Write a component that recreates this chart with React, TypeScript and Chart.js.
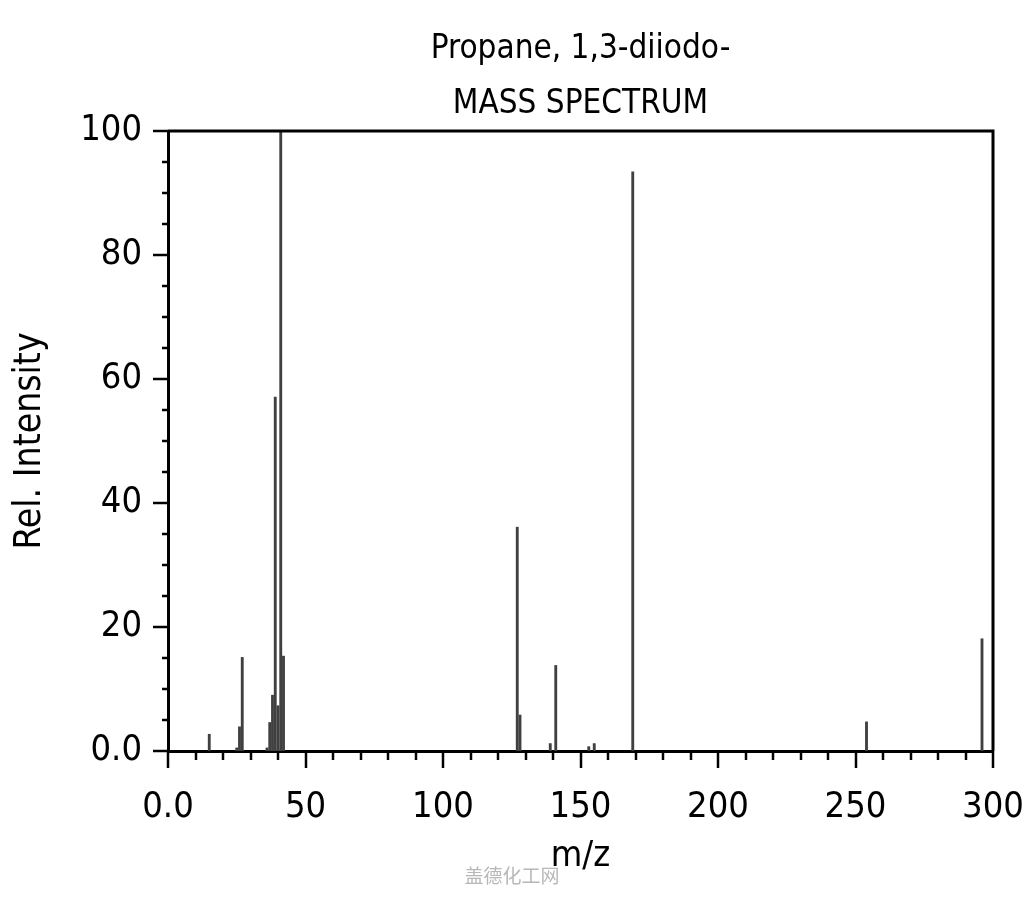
import React, { useEffect, useRef } from 'react';
import { Chart, registerables } from 'chart.js';

Chart.register(...registerables);

const mzValues = [15, 25, 26, 27, 36, 37, 38, 39, 40, 41, 42, 127, 128, 139, 141, 153, 155, 169, 254, 296];
const intensities = [2.7, 0.5, 3.9, 15.1, 0.5, 4.6, 9.0, 57.1, 7.3, 100, 15.3, 36.1, 5.8, 1.2, 13.8, 0.7, 1.2, 93.4, 4.7, 18.1];
const titleLines = ['Propane, 1,3-diiodo-', 'MASS SPECTRUM'];
const xAxisTitle = 'm/z';
const yAxisTitle = 'Rel. Intensity';
const watermark = '盖德化工网';

const FONT = "'DejaVu Sans Condensed', 'DejaVu Sans', sans-serif";

const framePlugin = {
  id: 'framePlugin',
  afterDraw(chart: any) {
    const { ctx, chartArea, scales } = chart;
    const x = scales.x;
    const y = scales.y;
    ctx.save();
    ctx.strokeStyle = '#000';
    ctx.lineWidth = 3;
    ctx.beginPath();
    ctx.moveTo(chartArea.left, chartArea.top);
    ctx.lineTo(chartArea.right, chartArea.top);
    ctx.lineTo(chartArea.right, chartArea.bottom);
    ctx.stroke();
    ctx.lineWidth = 2.5;
    for (let v = 0; v <= 300; v += 10) {
      const px = Math.round(x.getPixelForValue(v));
      const len = v % 50 === 0 ? 17 : 9;
      ctx.beginPath();
      ctx.moveTo(px, chartArea.bottom);
      ctx.lineTo(px, chartArea.bottom + len);
      ctx.stroke();
    }
    for (let v = 0; v <= 100; v += 5) {
      const py = Math.round(y.getPixelForValue(v));
      const len = v % 20 === 0 ? 15 : 6;
      ctx.beginPath();
      ctx.moveTo(chartArea.left, py);
      ctx.lineTo(chartArea.left - len, py);
      ctx.stroke();
    }
    ctx.fillStyle = '#000';
    ctx.font = `33px ${FONT}`;
    ctx.textAlign = 'center';
    ctx.textBaseline = 'alphabetic';
    const cx = (chartArea.left + chartArea.right) / 2;
    ctx.fillText(titleLines[0], cx, 58);
    ctx.fillText(titleLines[1], cx, 113);
    ctx.restore();
  },
};

export default function App() {
  const ref = useRef<HTMLCanvasElement>(null);
  useEffect(() => {
    if (!ref.current) return;
    const chart = new Chart(ref.current, {
      type: 'bar',
      data: {
        datasets: [
          {
            data: mzValues.map((m, i) => ({ x: m, y: intensities[i] })),
            backgroundColor: '#404040',
            borderWidth: 0,
            barThickness: 2.2,
          } as any,
        ],
      },
      options: {
        responsive: false,
        animation: false,
        layout: { padding: { top: 131, right: 31, left: 0, bottom: 0 } },
        plugins: { legend: { display: false }, tooltip: { enabled: false }, title: { display: false } },
        scales: {
          x: {
            type: 'linear',
            min: 0,
            max: 300,
            offset: false,
            grid: { display: false },
            border: { display: true, color: '#000', width: 3 },
            ticks: {
              stepSize: 50,
              color: '#000',
              padding: 27,
              maxRotation: 0,
              font: { family: FONT, size: 36 },
              callback: (v: any) => (v === 0 ? '0.0' : String(v)),
            },
            title: {
              display: true,
              text: xAxisTitle,
              color: '#000',
              font: { family: FONT, size: 36 },
              padding: { top: 0, bottom: 22 },
            },
            afterFit: (s: any) => {
              s.height = 149;
              s.paddingLeft = 0;
              s.paddingRight = 0;
            },
          },
          y: {
            min: 0,
            max: 100,
            grid: { display: false },
            border: { display: true, color: '#000', width: 3 },
            ticks: {
              stepSize: 20,
              color: '#000',
              padding: 18,
              font: { family: FONT, size: 36 },
              callback: (v: any) => (v === 0 ? '0.0' : String(v)),
            },
            title: {
              display: true,
              text: yAxisTitle,
              color: '#000',
              font: { family: FONT, size: 37 },
              padding: { top: 8, bottom: 0 },
            },
            afterFit: (s: any) => {
              s.width = 168;
              s.paddingTop = 0;
              s.paddingBottom = 0;
            },
          },
        },
      },
      plugins: [framePlugin],
    });
    return () => chart.destroy();
  }, []);
  return (
    <div style={{ position: 'absolute', left: 0, top: 0, width: 1024, height: 900, background: '#fff' }}>
      <canvas ref={ref} width={1024} height={900} style={{ width: 1024, height: 900, display: 'block' }} />
      <div
        style={{
          position: 'absolute',
          left: 0,
          width: 1024,
          top: 863,
          textAlign: 'center',
          fontFamily: "'Noto Sans CJK SC', sans-serif",
          fontSize: 19,
          lineHeight: '24px',
          color: '#b8b8b8',
        }}
      >
        {watermark}
      </div>
    </div>
  );
}
